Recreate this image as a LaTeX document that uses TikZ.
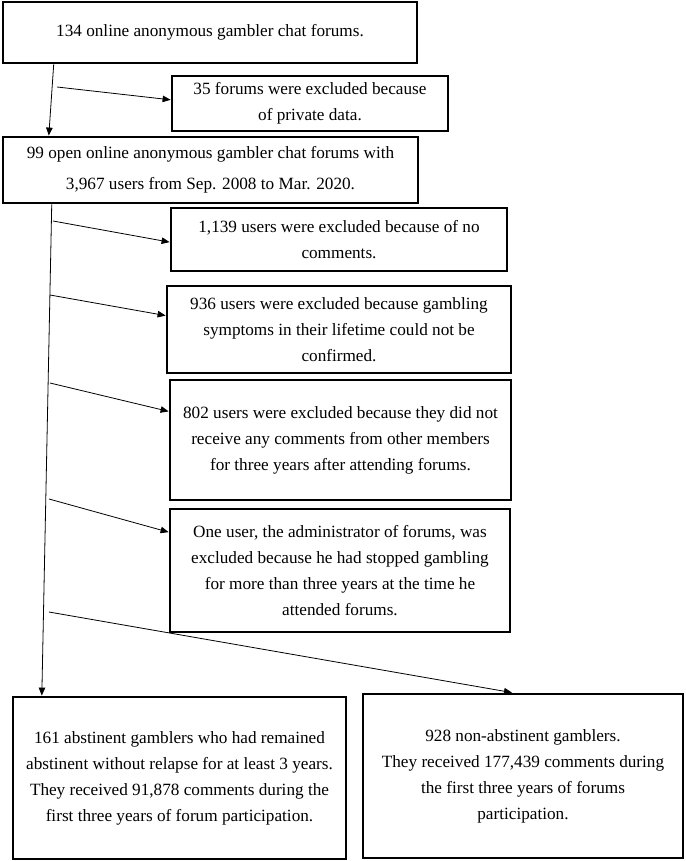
\documentclass[tikz,border=0pt]{standalone}
\usepackage{fontspec}
\setmainfont{Liberation Serif}
\usetikzlibrary{arrows.meta,calc}
\begin{document}
\begin{tikzpicture}[x=1pt,y=-1pt,
  box/.style={draw=black,line width=2.8pt,inner sep=0pt,align=center,
    font=\fontsize{17.2}{26}\selectfont},
  conn/.style={draw=black,line width=0.8pt,-{Triangle[length=8pt,width=6.5pt]}}]
\useasboundingbox[fill=white] (0,0) rectangle (685,861);
% boxes: centre, width, height
\node[box,minimum width=414pt,minimum height=61pt] (b1) at (210,32.5) {134 online anonymous gambler chat forums.};
\node[box,minimum width=276pt,minimum height=55pt] (b2) at (310,103.5) {35 forums were excluded because\\of private data.};
\node[box,minimum width=415pt,minimum height=66pt,font=\fontsize{17.2}{31}\selectfont] (b3) at (210.5,170) {99 open online anonymous gambler chat forums with\\3,967 users from Sep. 2008 to Mar. 2020.};
\node[box,minimum width=336pt,minimum height=63pt] (b4) at (339,239.5) {1,139 users were excluded because of no\\comments.};
\node[box,minimum width=344pt,minimum height=87pt] (b5) at (339,329.5) {936 users were excluded because gambling\\symptoms in their lifetime could not be\\confirmed.};
\node[box,minimum width=341pt,minimum height=120pt] (b6) at (340.5,440) {802 users were excluded because they did not\\receive any comments from other members\\for three years after attending forums.};
\node[box,minimum width=340pt,minimum height=123pt] (b7) at (340,570.5) {One user, the administrator of forums, was\\excluded because he had stopped gambling\\for more than three years at the time he\\attended forums.};
\node[box,minimum width=333pt,minimum height=162pt] (b8) at (179.5,778) {161 abstinent gamblers who had remained\\abstinent without relapse for at least 3 years.\\They received 91,878 comments during the\\first three years of forum participation.};
\node[box,minimum width=320pt,minimum height=164pt] (b9) at (523,776) {928 non-abstinent gamblers.\\They received 177,439 comments during\\the first three years of forums\\participation.};
% branch start points
\coordinate (s1) at (57,87);
\coordinate (s2) at (53,221);
\coordinate (s3) at (50,295);
\coordinate (s4) at (50,383);
\coordinate (s5) at (49,499);
\coordinate (s6) at (49,612);
% main flow
\draw[conn] ($(b1.south west)!0.125!(b1.south east)$) -- ($(b3.north west)!0.113!(b3.north east)$);
\draw[conn] ($(b3.south west)!0.12!(b3.south east)$) -- ($(b8.north west)!0.09!(b8.north east)$);
% exclusions
\draw[conn] (s1) -- ($(b2.north west)!0.436!(b2.south west)$);
\draw[conn] (s2) -- ($(b4.north west)!0.54!(b4.south west)$);
\draw[conn] (s3) -- ($(b5.north west)!0.345!(b5.south west)$);
\draw[conn] (s4) -- ($(b6.north west)!0.267!(b6.south west)$);
\draw[conn] (s5) -- ($(b7.north west)!0.195!(b7.south west)$);
\draw[conn] (s6) -- ($(b9.north west)!0.466!(b9.north east)$);
\end{tikzpicture}
\end{document}
